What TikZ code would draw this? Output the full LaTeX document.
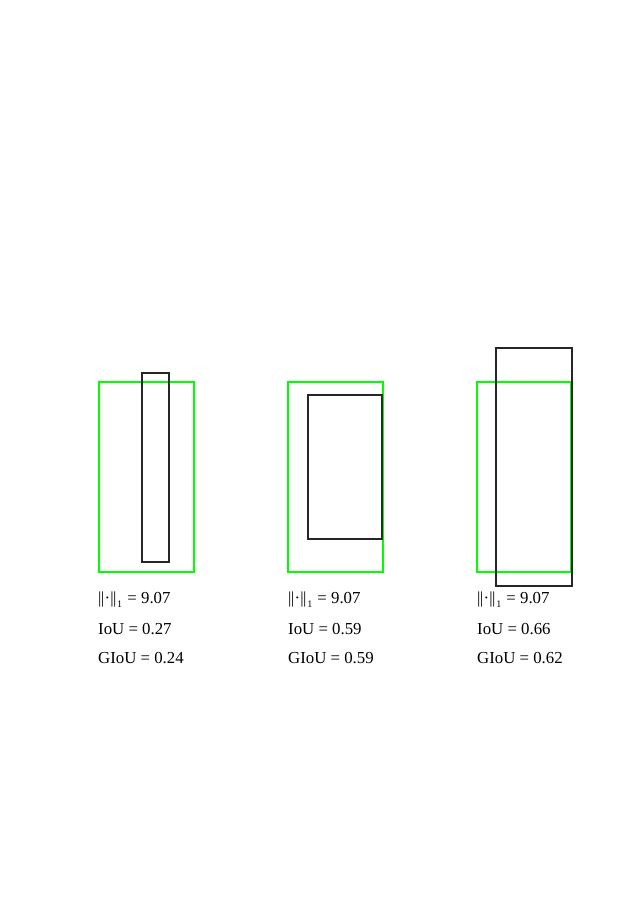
\documentclass[tikz,border=0pt]{standalone}
\usepackage{fontspec}
\setmainfont{Liberation Serif}
\definecolor{boxgreen}{RGB}{0,255,0}
\newcommand{\normone}{|\kern-0.6pt|\kern0.2pt·\kern0.2pt|\kern-0.6pt|\kern0.8pt\raisebox{-0.6ex}{\fontsize{10}{12}\selectfont 1}\kern1pt}
\tikzset{
  gbox/.style={draw=boxgreen, line width=2pt},
  kbox/.style={draw=black!85, line width=2pt},
  lbl/.style={anchor=base west, inner sep=0pt, font=\fontsize{16.8}{19}\selectfont},
}
\begin{document}
\begin{tikzpicture}[x=1pt,y=-1pt]
\useasboundingbox (0,0) rectangle (630,897);
% panel 1
\draw[gbox] (99,382) rectangle (194,572);
\draw[kbox] (142,373) rectangle (169,562);
\node[lbl] (n1) at (98,603) {\normone{} = 9.07};
\node[lbl] (i1) at (98,634) {IoU = 0.27};
\node[lbl] (g1) at (98,663) {GIoU = 0.24};
% panel 2
\draw[gbox] (288,382) rectangle (383,572);
\draw[kbox] (308,395) rectangle (382,539);
\node[lbl] (n2) at (288,603) {\normone{} = 9.07};
\node[lbl] (i2) at (288,634) {IoU = 0.59};
\node[lbl] (g2) at (288,663) {GIoU = 0.59};
% panel 3
\draw[gbox] (477,382) rectangle (571,572);
\draw[kbox] (496,348) rectangle (572,586);
\node[lbl] (n3) at (477,603) {\normone{} = 9.07};
\node[lbl] (i3) at (477,634) {IoU = 0.66};
\node[lbl] (g3) at (477,663) {GIoU = 0.62};
\end{tikzpicture}
\end{document}
